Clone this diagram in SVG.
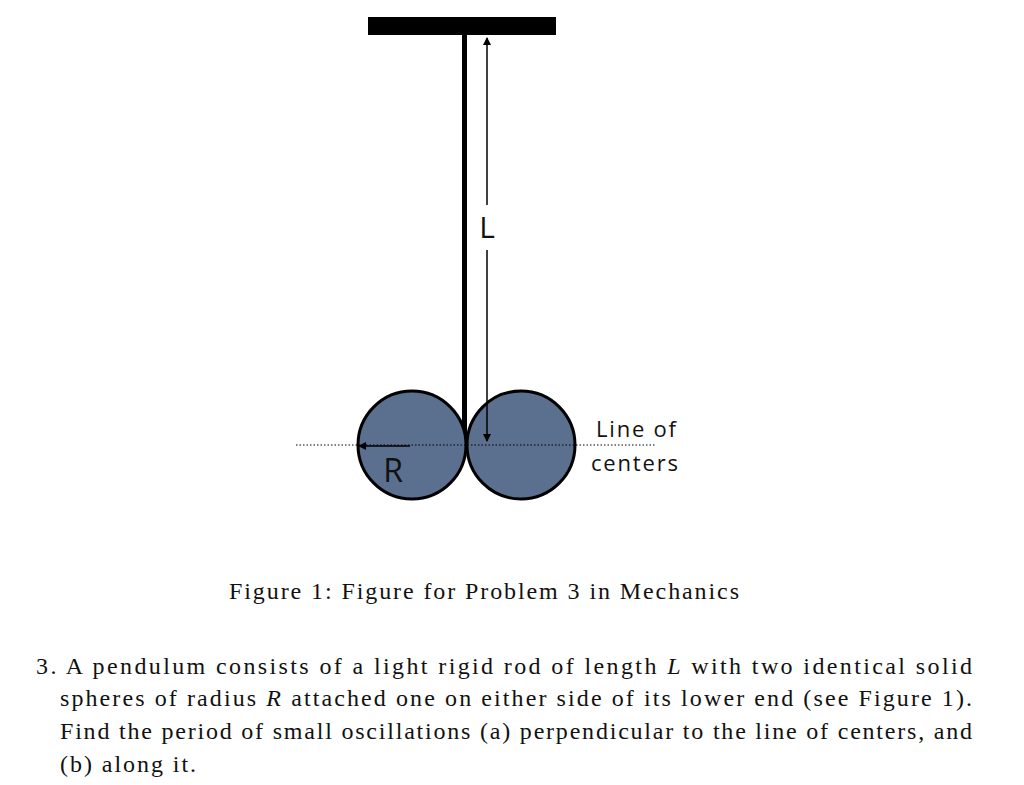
<svg xmlns="http://www.w3.org/2000/svg" width="1024" height="785" viewBox="0 0 1024 785">
<style>
.s{font-family:"Open Sans","DejaVu Sans",sans-serif;fill:#111}
.t{font-family:"Liberation Serif",serif;font-size:24px;fill:#111}
.ball{fill:#5b6f8f;stroke:#000;stroke-width:3}
</style>
<defs><marker id="a" markerWidth="8" markerHeight="8" refX="7" refY="4" orient="auto" markerUnits="userSpaceOnUse"><path d="M0,0L8,4L0,8z" fill="#000"/></marker></defs>
<rect width="1024" height="785" fill="#fff"/>
<g id="support"><rect x="368" y="17" width="188" height="18" fill="#000"/></g>
<g id="rod"><rect x="462" y="35" width="5" height="405" fill="#000"/></g>
<g id="left-sphere"><circle class="ball" cx="412" cy="445" r="54"/></g>
<g id="right-sphere"><circle class="ball" cx="521" cy="445" r="54"/></g>
<g id="connectors">
<line x1="296" y1="445" x2="655" y2="445" stroke="#000" stroke-width="1" stroke-dasharray="1.5,2"/>
<line x1="487" y1="205" x2="487" y2="38" stroke="#000" stroke-width="1.5" marker-end="url(#a)"/>
<line x1="487" y1="250" x2="487" y2="441" stroke="#000" stroke-width="1.5" marker-end="url(#a)"/>
<line x1="410" y1="446" x2="359" y2="446" stroke="#000" stroke-width="1.5" marker-end="url(#a)"/>
</g>
<text class="s" x="487" y="238" font-size="30" text-anchor="middle">L</text>
<text class="s" x="393" y="482" font-size="32" text-anchor="middle">R</text>
<text class="s" x="596" y="437" font-size="22" textLength="80">Line of</text>
<text class="s" x="591" y="471" font-size="22" textLength="87">centers</text>
<text class="t" x="229" y="599" textLength="510">Figure 1: Figure for Problem 3 in Mechanics</text>
<text class="t" x="36" y="674" textLength="936">3.  A pendulum consists of a light rigid rod of length <tspan font-style="italic">L</tspan> with two identical solid</text>
<text class="t" x="60" y="706" textLength="912">spheres of radius <tspan font-style="italic">R</tspan> attached one on either side of its lower end (see Figure 1).</text>
<text class="t" x="60" y="739" textLength="912">Find the period of small oscillations (a) perpendicular to the line of centers, and</text>
<text class="t" x="60" y="772" textLength="136">(b) along it.</text>
</svg>
